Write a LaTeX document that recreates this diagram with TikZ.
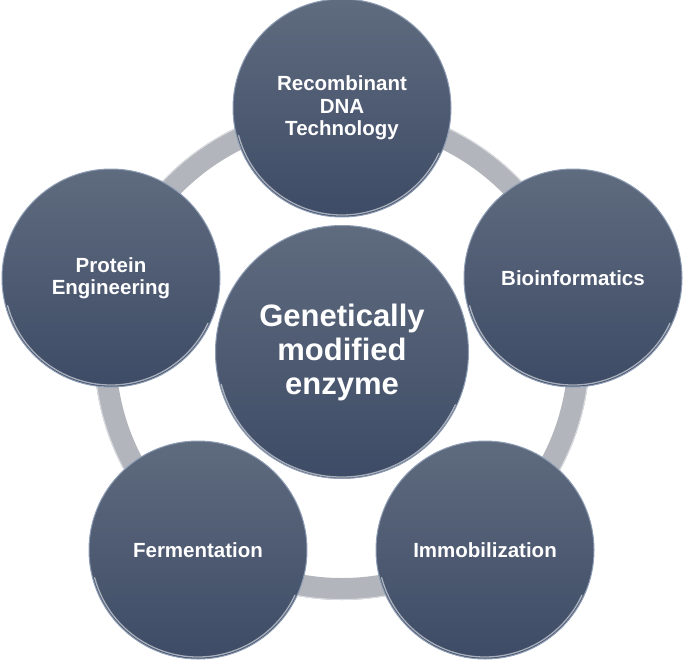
\documentclass[tikz,border=0pt]{standalone}
\usepackage{fontspec}
\setmainfont{Liberation Sans}
\definecolor{ringgray}{HTML}{B2B5BC}
\definecolor{ringlight}{HTML}{DADCE0}
\definecolor{ctop}{HTML}{5F6B7E}
\definecolor{cbot}{HTML}{3D4B66}
\definecolor{rim}{HTML}{8E9DB4}
\begin{document}
\begin{tikzpicture}[x=1pt,y=-1pt,
  bubble/.style={circle, draw=rim, line width=1pt, top color=ctop, bottom color=cbot, inner sep=0pt, text=white, align=center},
  outerb/.style={bubble, minimum size=218pt, font=\bfseries\fontsize{20.5}{22.5}\selectfont},
  innerb/.style={bubble, minimum size=253pt, font=\bfseries\fontsize{31}{34}\selectfont},
  gloss/.style={white, opacity=0.55, line width=1.3pt, line cap=round}]
\useasboundingbox (0,0) rectangle (685,661);
\coordinate (c) at (342,352);
\draw[ringgray, line width=22pt] (c) circle[radius=237];
\draw[ringlight, line width=1pt] (c) circle[radius=247.5];
\node[outerb] (rdna) at (342,108) {Recombinant\\DNA\\Technology};
\node[outerb] (bio) at (573,278) {Bioinformatics};
\node[outerb] (prot) at (111,278) {Protein\\Engineering};
\node[outerb] (ferm) at (198,550) {Fermentation};
\node[outerb] (immo) at (485,550) {Immobilization};
\node[innerb] (gme) at (c) {Genetically\\modified\\enzyme};
\foreach \n in {rdna,bio,prot,ferm,immo}{
  \draw[gloss] (\n.center) ++(165:107) arc[start angle=165, end angle=25, radius=107];
}
\draw[gloss] (gme.center) ++(165:125) arc[start angle=165, end angle=25, radius=125];
\end{tikzpicture}
\end{document}
